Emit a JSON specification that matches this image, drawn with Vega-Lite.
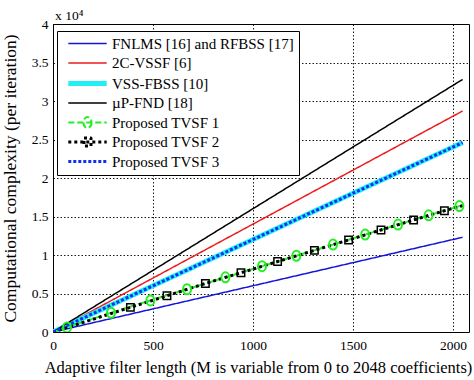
{
  "$schema": "https://vega.github.io/schema/vega-lite/v6.json",
  "width": 416,
  "height": 308,
  "autosize": {"type": "none"},
  "padding": {"left": 53, "top": 24, "right": 5, "bottom": 48},
  "background": "white",
  "title": {"text": "x 10⁴", "anchor": "start", "frame": "group", "offset": 2, "dx": 2, "dy": 21, "fontSize": 13.5, "font": "Liberation Serif", "fontWeight": "normal", "color": "black", "baseline": "bottom"},
  "config": {
    "font": "Liberation Serif",
    "view": {"stroke": "black", "strokeWidth": 1}
  },
  "datasets": {
    "lines": [
      {"series": "FNLMS [16] and RFBSS [17]", "M": 0, "complexity": 0},
      {"series": "FNLMS [16] and RFBSS [17]", "M": 2048, "complexity": 12300},
      {"series": "2C-VSSF [6]", "M": 0, "complexity": 0},
      {"series": "2C-VSSF [6]", "M": 2048, "complexity": 28700},
      {"series": "VSS-FBSS [10]", "M": 0, "complexity": 0},
      {"series": "VSS-FBSS [10]", "M": 2048, "complexity": 24600},
      {"series": "µP-FND [18]", "M": 0, "complexity": 0},
      {"series": "µP-FND [18]", "M": 2048, "complexity": 32800},
      {"series": "Proposed TVSF 1", "M": 0, "complexity": 0},
      {"series": "Proposed TVSF 1", "M": 70, "complexity": 600},
      {"series": "Proposed TVSF 1", "M": 290, "complexity": 2500},
      {"series": "Proposed TVSF 1", "M": 487, "complexity": 4100},
      {"series": "Proposed TVSF 1", "M": 670, "complexity": 5550},
      {"series": "Proposed TVSF 1", "M": 862, "complexity": 7100},
      {"series": "Proposed TVSF 1", "M": 1045, "complexity": 8550},
      {"series": "Proposed TVSF 1", "M": 1217, "complexity": 9900},
      {"series": "Proposed TVSF 1", "M": 1400, "complexity": 11350},
      {"series": "Proposed TVSF 1", "M": 1561, "complexity": 12650},
      {"series": "Proposed TVSF 1", "M": 1725, "complexity": 13950},
      {"series": "Proposed TVSF 1", "M": 1878, "complexity": 15150},
      {"series": "Proposed TVSF 1", "M": 2032, "complexity": 16350},
      {"series": "Proposed TVSF 1", "M": 2048, "complexity": 16450},
      {"series": "Proposed TVSF 2", "M": 0, "complexity": 0},
      {"series": "Proposed TVSF 2", "M": 387, "complexity": 3200},
      {"series": "Proposed TVSF 2", "M": 570, "complexity": 4700},
      {"series": "Proposed TVSF 2", "M": 762, "complexity": 6300},
      {"series": "Proposed TVSF 2", "M": 940, "complexity": 7700},
      {"series": "Proposed TVSF 2", "M": 1123, "complexity": 9150},
      {"series": "Proposed TVSF 2", "M": 1307, "complexity": 10600},
      {"series": "Proposed TVSF 2", "M": 1478, "complexity": 11950},
      {"series": "Proposed TVSF 2", "M": 1640, "complexity": 13250},
      {"series": "Proposed TVSF 2", "M": 1803, "complexity": 14550},
      {"series": "Proposed TVSF 2", "M": 1957, "complexity": 15750},
      {"series": "Proposed TVSF 2", "M": 2048, "complexity": 16400},
      {"series": "Proposed TVSF 3", "M": 0, "complexity": 0},
      {"series": "Proposed TVSF 3", "M": 2048, "complexity": 24600}
    ]
  },
  "data": {"name": "lines"},
  "encoding": {
    "x": {
      "field": "M", "type": "quantitative",
      "scale": {"domain": [0, 2080], "nice": false, "zero": false},
      "axis": {
        "values": [0, 500, 1000, 1500, 2000],
        "format": "d",
        "title": "Adaptive filter length (M is variable from 0 to 2048 coefficients)",
        "grid": true, "gridColor": "#000000", "gridDash": [1.5, 2], "gridOpacity": 1, "gridWidth": 0.9,
        "domain": false, "ticks": false,
        "labelPadding": 6, "labelFontSize": 13.5, "labelColor": "black", "labelFont": "Liberation Serif",
        "labelFlush": false,
        "titleFontSize": 16.5, "titleFontWeight": "normal", "titleColor": "black", "titleFont": "Liberation Serif",
        "titleX": 205, "titleY": 40, "titleAlign": "center", "titleBaseline": "alphabetic"
      }
    },
    "y": {
      "field": "complexity", "type": "quantitative",
      "scale": {"domain": [0, 40000], "nice": false},
      "axis": {
        "values": [0, 5000, 10000, 15000, 20000, 25000, 30000, 35000, 40000],
        "labelExpr": "datum.value / 10000",
        "title": "Computational complexity (per iteration)",
        "grid": true, "gridColor": "#000000", "gridDash": [1.5, 2], "gridOpacity": 1, "gridWidth": 0.9,
        "domain": false, "ticks": false,
        "labelPadding": 5, "labelFontSize": 13.5, "labelColor": "black", "labelFont": "Liberation Serif",
        "labelFlush": false,
        "titleFontSize": 17.5, "titleFontWeight": "normal", "titleColor": "black", "titleFont": "Liberation Serif",
        "titleX": -43, "titleY": 154, "titleAngle": -90, "titleAlign": "center", "titleBaseline": "middle"
      }
    }
  },
  "layer": [
    {
      "mark": {"type": "line", "clip": true},
      "encoding": {
        "color": {
          "field": "series", "type": "nominal",
          "scale": {
            "domain": ["FNLMS [16] and RFBSS [17]", "2C-VSSF [6]", "VSS-FBSS [10]", "µP-FND [18]", "Proposed TVSF 1", "Proposed TVSF 2", "Proposed TVSF 3"],
            "range": ["#1515d8", "#ec1c1c", "#22eef5", "#000000", "#22ee22", "#000000", "#1030f0"]
          },
          "legend": {
            "orient": "none", "legendX": 4, "legendY": 7, "title": null,
            "strokeColor": "black", "fillColor": "white", "padding": 5,
            "labelFontSize": 15, "labelColor": "black", "labelFont": "Liberation Serif", "labelLimit": 320,
            "symbolSize": 144, "symbolOffset": 17, "labelOffset": 16, "rowPadding": 3.5,
            "encode": {
              "symbols": {
                "update": {
                  "strokeJoin": {"value": "round"},
                  "shape": {"signal": "datum.value === 'Proposed TVSF 1' ? 'M-3.2,0L3.2,0M0.67,0C0.67,0.508,0.37,0.92,0,0.92C-0.37,0.92,-0.67,0.508,-0.67,0C-0.67,-0.508,-0.37,-0.92,0,-0.92C0.37,-0.92,0.67,-0.508,0.67,0Z' : datum.value === 'Proposed TVSF 2' ? 'M-3.2,0L3.2,0M-0.58,-0.67L0.58,-0.67L0.58,0.67L-0.58,0.67Z' : 'M-3.2,0L3.2,0'"}
                }
              }
            }
          }
        },
        "strokeDash": {
          "field": "series", "type": "nominal",
          "scale": {
            "domain": ["FNLMS [16] and RFBSS [17]", "2C-VSSF [6]", "VSS-FBSS [10]", "µP-FND [18]", "Proposed TVSF 1", "Proposed TVSF 2", "Proposed TVSF 3"],
            "range": [[1, 0], [1, 0], [1, 0], [1, 0], [6, 3], [3, 3], [3, 2]]
          }
        },
        "strokeWidth": {
          "field": "series", "type": "nominal",
          "scale": {
            "type": "ordinal",
            "domain": ["FNLMS [16] and RFBSS [17]", "2C-VSSF [6]", "VSS-FBSS [10]", "µP-FND [18]", "Proposed TVSF 1", "Proposed TVSF 2", "Proposed TVSF 3"],
            "range": [1.5, 1.5, 5, 1.5, 2, 3, 3]
          }
        }
      }
    },
    {
      "transform": [{"filter": "datum.series === 'Proposed TVSF 1' && datum.M > 0 && datum.M < 2048"}],
      "mark": {"type": "point", "shape": "M0.8,0A0.8,1,0,1,1,-0.8,0A0.8,1,0,1,1,0.8,0", "size": 100, "color": "#22ee22", "strokeWidth": 2, "filled": false, "opacity": 1, "clip": true}
    },
    {
      "transform": [{"filter": "datum.series === 'Proposed TVSF 2' && datum.M > 0 && datum.M < 2048"}],
      "mark": {"type": "point", "shape": "square", "size": 55, "color": "#000000", "strokeWidth": 1.5, "filled": false, "opacity": 1}
    }
  ]
}
